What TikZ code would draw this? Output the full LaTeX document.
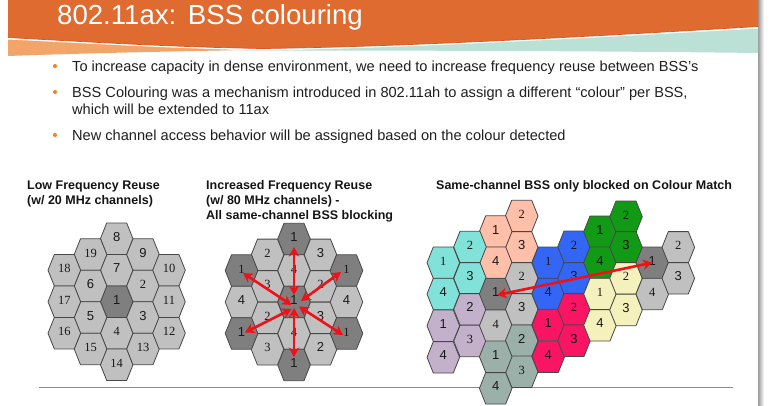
\documentclass[tikz,border=0pt]{standalone}
\usepackage{fontspec}
\setmainfont{Liberation Sans}
\newfontfamily\serifnum{Liberation Serif}
\usetikzlibrary{arrows.meta,calc}
\definecolor{hdr}{HTML}{DF6B30}
\definecolor{hdrdark}{HTML}{D9581E}
\definecolor{peach}{HTML}{F3A469}
\definecolor{mint}{HTML}{BBE0D5}
\definecolor{cellgrey}{HTML}{C0C0C0}
\definecolor{celldark}{HTML}{7F7F7F}
\definecolor{salmon}{HTML}{FFBFA8}
\definecolor{aqua}{HTML}{80E2D8}
\definecolor{lilac}{HTML}{C3B0CB}
\definecolor{slate}{HTML}{9CB0AA}
\definecolor{royal}{HTML}{3366F5}
\definecolor{hotpink}{HTML}{FA1464}
\definecolor{leaf}{HTML}{129A17}
\definecolor{cream}{HTML}{F5F1BD}
\definecolor{bulletc}{HTML}{F08020}
\definecolor{arrowred}{HTML}{F01018}
\tikzset{
  x=1pt,y=-1pt,
  hexedge/.style={draw=black!72,line width=0.8pt,line join=round},
  hexlabel/.style={inner sep=0pt,text=black!90},
  blockarrow/.style={draw=arrowred,line width=2.6pt,{Stealth[length=9.5pt,width=10.5pt]}-{Stealth[length=9.5pt,width=10.5pt]}},
  bodytext/.style={anchor=base west,inner sep=0pt,font=\fontsize{14.6}{17}\selectfont,text=black!88},
  titletext/.style={anchor=base west,inner sep=0pt,font=\fontsize{12.5}{14}\selectfont\bfseries,text=black!92},
  bulletdot/.style={circle,fill=bulletc,inner sep=0pt,minimum size=4pt},
}
% name, x, y, fill, font command, text
\newcommand{\hexcell}[6]{%
  \fill[#4] (#2-16.3,#3) -- (#2-10,#3-15.7) -- (#2+10,#3-15.7) -- (#2+16.3,#3) -- (#2+10,#3+15.7) -- (#2-10,#3+15.7) -- cycle;
  \draw[hexedge] (#2-16.3,#3) -- (#2-10,#3-15.7) -- (#2+10,#3-15.7) -- (#2+16.3,#3) -- (#2+10,#3+15.7) -- (#2-10,#3+15.7) -- cycle;
  \node[hexlabel] (#1) at (#2,#3) {#5#6\strut};
}
\newcommand{\hs}{\fontsize{13}{13}\selectfont}
\newcommand{\hr}{\serifnum\fontsize{12.5}{13}\selectfont}
\begin{document}
\begin{tikzpicture}
\useasboundingbox (0,0) rectangle (770,405);
\fill[white] (0,0) rectangle (770,405);
% slide shadow
\shade[left color=black!40,right color=white] (758,0) rectangle (764,405);
% header
\fill[peach] (8,39) .. controls (90,43) and (170,47) .. (245,50) .. controls (170,51.5) and (90,53) .. (8,56) -- cycle;
\fill[mint] (245,50) .. controls (420,45) and (600,36) .. (758,28) -- (758,53) .. controls (600,51) and (420,50.5) .. (245,50.5) -- cycle;
\fill[hdr] (8,0) -- (758,0) -- (758,26.5) .. controls (600,36) and (400,47) .. (262,48.5) .. controls (170,47) and (90,42) .. (8,37.5) -- cycle;
\draw[hdrdark,line width=0.7pt] (758,26.5) .. controls (600,36) and (400,47) .. (262,48.5) .. controls (170,47) and (90,42) .. (8,37.5);
\draw[white,line width=1pt] (758,28) .. controls (600,37) and (400,48) .. (262,49.8) .. controls (170,48) and (90,43) .. (8,39);
\node[anchor=base west,inner sep=0pt,text=white,font=\fontsize{27.6}{32}\selectfont] (title) at (57,24.7) {802.11ax:\hspace{0.42em}BSS colouring};
% bullets
\node[bulletdot] (b1) at (55,66) {};
\node[bodytext] (t1) at (72,71.5) {To increase capacity in dense environment, we need to increase frequency reuse between BSS's};
\node[bulletdot] (b2) at (55,92) {};
\node[bodytext] (t2) at (72,97.5) {BSS Colouring was a mechanism introduced in 802.11ah to assign a different “colour” per BSS,};
\node[bodytext] (t2b) at (72,114) {which will be extended to 11ax};
\node[bulletdot] (b3) at (55,135) {};
\node[bodytext] (t3) at (72,140.5) {New channel access behavior will be assigned based on the colour detected};
% sub-titles
\node[titletext] (h1) at (27,189) {Low Frequency Reuse};
\node[titletext] (h1b) at (27,204) {(w/ 20 MHz channels)};
\node[titletext] (h2) at (206,189) {Increased Frequency Reuse};
\node[titletext] (h2b) at (206,204) {(w/ 80 MHz channels) -};
\node[titletext] (h2c) at (206,219.5) {All same-channel BSS blocking};
\node[titletext] (h3) at (436,189) {Same-channel BSS only blocked on Colour Match};
% rule
\coordinate (ruleL) at (39,387.5);
\coordinate (ruleR) at (733,387.5);
\draw[black!45,line width=1.4pt] (ruleL) -- (ruleR);
% cluster 1
\hexcell{aA}{116.7}{238.7}{cellgrey}{\hs}{8}
\hexcell{aB}{116.7}{270.2}{cellgrey}{\hs}{7}
\hexcell{aC}{116.7}{301.7}{celldark}{\hs}{1}
\hexcell{aD}{116.7}{333.2}{cellgrey}{\hr}{4}
\hexcell{aE}{116.7}{364.7}{cellgrey}{\hr}{14}
\hexcell{aF}{143}{254.5}{cellgrey}{\hs}{9}
\hexcell{aG}{143}{286}{cellgrey}{\hr}{2}
\hexcell{aH}{143}{317.5}{cellgrey}{\hs}{3}
\hexcell{aI}{143}{349}{cellgrey}{\hr}{13}
\hexcell{aJ}{169}{270.2}{cellgrey}{\hr}{10}
\hexcell{aK}{169}{301.7}{cellgrey}{\hr}{11}
\hexcell{aL}{169}{333.2}{cellgrey}{\hr}{12}
\hexcell{aM}{90.5}{254.5}{cellgrey}{\hr}{19}
\hexcell{aN}{90.5}{286}{cellgrey}{\hs}{6}
\hexcell{aO}{90.5}{317.5}{cellgrey}{\hs}{5}
\hexcell{aP}{90.5}{349}{cellgrey}{\hr}{15}
\hexcell{aQ}{64.3}{270.2}{cellgrey}{\hr}{18}
\hexcell{aR}{64.3}{301.7}{cellgrey}{\hr}{17}
\hexcell{aS}{64.3}{333.2}{cellgrey}{\hr}{16}
% cluster 2
\hexcell{bA}{294}{239}{celldark}{\hs}{1}
\hexcell{bB}{294}{270.5}{cellgrey}{\hr}{4}
\hexcell{bC}{294}{302}{celldark}{\hs}{1}
\hexcell{bD}{294}{333.5}{cellgrey}{\hr}{4}
\hexcell{bE}{294}{365}{celldark}{\hs}{1}
\hexcell{bF}{320.5}{254.8}{cellgrey}{\hs}{3}
\hexcell{bG}{320.5}{286.3}{cellgrey}{\hr}{2}
\hexcell{bH}{320.5}{317.8}{cellgrey}{\hs}{3}
\hexcell{bI}{320.5}{349.3}{cellgrey}{\hs}{2}
\hexcell{bJ}{346.5}{270.5}{celldark}{\hr}{1}
\hexcell{bK}{346.5}{302}{cellgrey}{\hs}{4}
\hexcell{bL}{346.5}{333.5}{celldark}{\hr}{1}
\hexcell{bM}{267.5}{254.8}{cellgrey}{\hr}{2}
\hexcell{bN}{267.5}{286.3}{cellgrey}{\hr}{3}
\hexcell{bO}{267.5}{317.8}{cellgrey}{\hr}{2}
\hexcell{bP}{267.5}{349.3}{cellgrey}{\hr}{3}
\hexcell{bQ}{241.5}{270.5}{celldark}{\hr}{1}
\hexcell{bR}{241.5}{302}{cellgrey}{\hs}{4}
\hexcell{bS}{241.5}{333.5}{celldark}{\hs}{1}
% cluster 3
\hexcell{cA}{521.7}{216}{salmon}{\hr}{2}
\hexcell{cB}{521.7}{247.3}{salmon}{\hs}{3}
\hexcell{cC}{495.7}{231.5}{salmon}{\hs}{1}
\hexcell{cD}{495.7}{262.7}{salmon}{\hs}{4}
\hexcell{cE}{470}{247}{aqua}{\hr}{2}
\hexcell{cF}{470}{278.3}{aqua}{\hs}{3}
\hexcell{cG}{443.3}{262.7}{aqua}{\hr}{1}
\hexcell{cH}{443.3}{294}{aqua}{\hs}{4}
\hexcell{cI}{470}{309.3}{lilac}{\hs}{2}
\hexcell{cJ}{470}{341}{lilac}{\hr}{3}
\hexcell{cK}{443.3}{325.7}{lilac}{\hs}{1}
\hexcell{cL}{443.3}{357.3}{lilac}{\hs}{4}
\hexcell{cM}{495.7}{294}{celldark}{\hs}{1}
\hexcell{cN}{521.7}{278.3}{cellgrey}{\hr}{2}
\hexcell{cO}{521.7}{309.3}{cellgrey}{\hs}{3}
\hexcell{cP}{495.7}{325.7}{cellgrey}{\hr}{4}
\hexcell{cQ}{521.7}{340.7}{slate}{\hs}{2}
\hexcell{cR}{521.7}{371.7}{slate}{\hr}{3}
\hexcell{cS}{495.7}{356.7}{slate}{\hs}{1}
\hexcell{cT}{495.7}{388.3}{slate}{\hs}{4}
\hexcell{cU}{548.3}{262.7}{royal}{\hr}{1}
\hexcell{cV}{548.3}{294}{royal}{\hs}{4}
\hexcell{cW}{574}{246.7}{royal}{\hr}{2}
\hexcell{cX}{574}{278.3}{royal}{\hs}{3}
\hexcell{cY}{548.3}{325}{hotpink}{\hs}{1}
\hexcell{cZ}{548.3}{356.7}{hotpink}{\hs}{4}
\hexcell{da}{574}{309.3}{hotpink}{\hr}{2}
\hexcell{db}{574}{340.7}{hotpink}{\hs}{3}
\hexcell{dc}{600}{231.7}{leaf}{\hs}{1}
\hexcell{dd}{600}{262.7}{leaf}{\hs}{4}
\hexcell{de}{626}{216.7}{leaf}{\hr}{2}
\hexcell{df}{626}{247.3}{leaf}{\hs}{3}
\hexcell{dg}{600}{294}{cream}{\hr}{1}
\hexcell{dh}{600}{325.3}{cream}{\hs}{4}
\hexcell{di}{626}{278.3}{cream}{\hr}{2}
\hexcell{dj}{626}{310}{cream}{\hs}{3}
\hexcell{dk}{652.3}{262.7}{celldark}{\hs}{1}
\hexcell{dl}{652.3}{294}{cellgrey}{\hr}{4}
\hexcell{dm}{678.3}{247.3}{cellgrey}{\hr}{2}
\hexcell{dn}{678.3}{278.3}{cellgrey}{\hs}{3}
% blocking arrows, cluster 2
\draw[blockarrow] ($(bA.center)+(0,8)$) -- ($(bC.center)+(0,-7)$);
\draw[blockarrow] ($(bE.center)+(0,-8)$) -- ($(bC.center)+(0,6)$);
\draw[blockarrow] ($(bQ.center)+(1.5,2.5)$) -- ($(bC.center)+(-2.5,3)$);
\draw[blockarrow] ($(bJ.center)+(-5.5,1.5)$) -- ($(bC.center)+(7,-1)$);
\draw[blockarrow] ($(bS.center)+(3.5,-1)$) -- ($(bC.center)+(-2.5,7)$);
\draw[blockarrow] ($(bL.center)+(-3.5,1.5)$) -- ($(bC.center)+(5,4.5)$);
% colour match arrow, cluster 3
\draw[blockarrow] (dk.center) -- ($(cM.center)+(1.5,1)$);
\end{tikzpicture}
\end{document}
